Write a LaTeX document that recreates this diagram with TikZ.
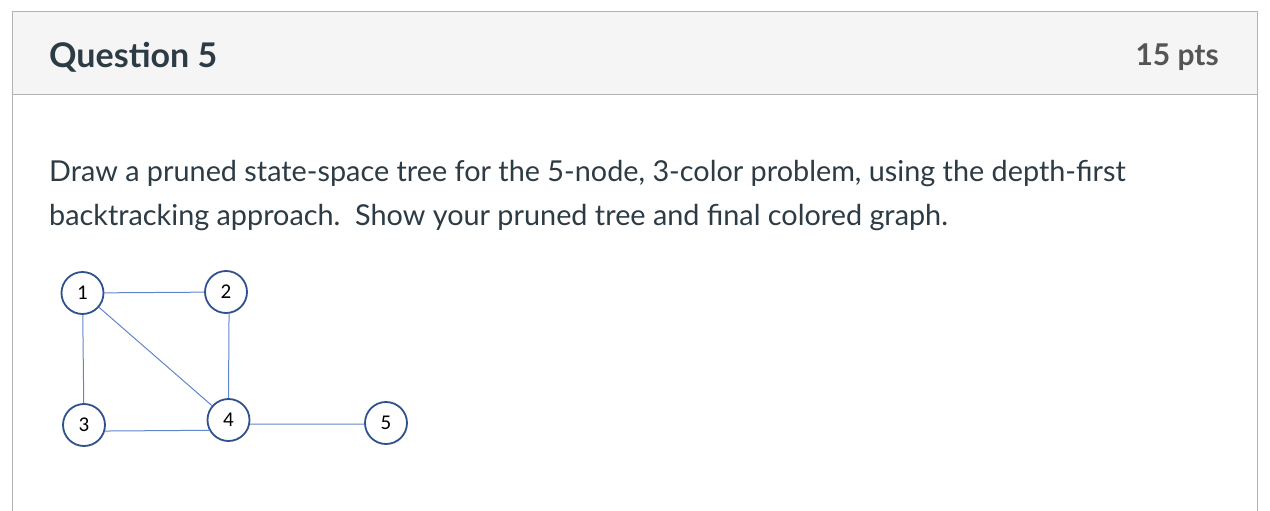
\documentclass[tikz,border=0pt]{standalone}
\usepackage{fontspec}
\usetikzlibrary{backgrounds}
\setmainfont{Lato}
\newfontfamily\gfont{Carlito}
\definecolor{hdrfill}{HTML}{F5F5F5}
\definecolor{boxline}{HTML}{B3B3B3}
\definecolor{titlecol}{HTML}{2D3B45}
\definecolor{ptscol}{HTML}{555555}
\definecolor{circcol}{HTML}{2F528F}
\definecolor{edgecol}{HTML}{4472C4}
\tikzset{
  gnode/.style={circle, draw=circcol, line width=1.8pt, fill=white, minimum size=42pt, inner sep=0pt, font=\gfont\fontsize{21}{21}\selectfont},
  gedge/.style={draw=edgecol!85, line width=1pt},
}
\begin{document}
\begin{tikzpicture}[x=1pt,y=-1pt]
\useasboundingbox (0,0) rectangle (1270,511);
% question box
\fill[hdrfill] (12,12) rectangle (1257,95);
\draw[boxline, line width=1pt] (12,520) -- (12,12) -- (1257,12) -- (1257,520);
\draw[boxline, line width=1pt] (12,95) -- (1257,95);
\node[anchor=base west, inner sep=0pt, text=titlecol, font=\bfseries\fontsize{34}{34}\selectfont] (title) at (49,67) {Question 5};
\node[anchor=base east, inner sep=0pt, text=ptscol, font=\bfseries\fontsize{30}{30}\selectfont] (pts) at (1219,65.5) {15 pts};
\node[anchor=base west, inner sep=0pt, text=titlecol, font=\fontsize{28.8}{44}\selectfont] (l1) at (49,181) {Draw a pruned state-space tree for the 5-node, 3-color problem, using the depth-first};
\node[anchor=base west, inner sep=0pt, text=titlecol, font=\fontsize{28.8}{44}\selectfont] (l2) at (49,225) {backtracking approach.\ \ Show your pruned tree and final colored graph.};
% graph
\node[gnode] (n1) at (82.5,293) {1};
\node[gnode] (n2) at (226,292) {2};
\node[gnode] (n3) at (84,425) {3};
\node[gnode] (n4) at (228.5,420) {4};
\node[gnode] (n5) at (386,423) {5};
\begin{scope}[on background layer]
\fill[white] (14,96) rectangle (1255,511);
\draw[gedge] (n1) -- (n2);
\draw[gedge] (n1) -- (n3);
\draw[gedge] (n1) -- (n4);
\draw[gedge] (n2.-82) -- (n4.90);
\draw[gedge] (n3.-16) -- (n4.208);
\draw[gedge] (n4.-11) -- (n5.183);
\end{scope}
\end{tikzpicture}
\end{document}
